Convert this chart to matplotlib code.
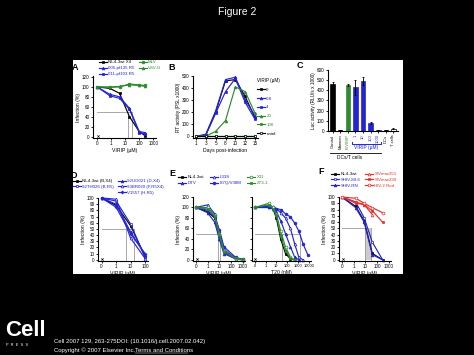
import numpy as np
import matplotlib
matplotlib.use('Agg')
import matplotlib.pyplot as plt
from matplotlib.lines import Line2D
from matplotlib.patches import Rectangle

plt.rcParams['font.family'] = ['Liberation Sans', 'DejaVu Sans']
plt.rcParams['font.size'] = 4

# ---- data ----
log_ticks = ['0', '1', '10', '100', '1000', '10000']

A_conc = [0, 0.8, 4, 20, 100, 250]
A_nl43 = [100, 97, 87, 40, 10, 2]
A_005 = [100, 85, 80, 57, 10, 8]
A_011 = [100, 82, 77, 55, 8, 5]
A_mlv = [100, 99, 100, 106, 104, 103]
A_vsv = [100, 100, 101, 104, 103, 101]

B_days = ['1', '3', '5', '8', '10', '12', '15']
B_0 = [0, 10, 200, 460, 470, 330, 150]
B_08 = [0, 15, 210, 470, 490, 300, 170]
B_4 = [0, 10, 190, 370, 480, 280, 140]
B_20 = [0, 0, 40, 130, 410, 370, 190]
B_100 = [0, 0, 0, 0, 0, 0, 0]
B_uninf = [0, 0, 0, 0, 0, 0, 0]

C_labels = ['Control', 'Mannan', 'B-VIRIP', '1', '10', '100', '1000', 'DCs', 'T cells']
C_vals = [460, 10, 450, 430, 490, 80, 10, 5, 20]
C_err = [25, 0, 10, 75, 40, 8, 0, 0, 5]

D_conc = [0, 1, 10, 100]
D_nl43 = [100, 88, 55, 5]
D_92ug = [100, 90, 45, 8]
D_92th = [100, 95, 58, 3]
D_93br = [100, 98, 35, 2]
D_v1557 = [100, 85, 42, 10]

E_conc = [0, 1, 4, 10, 25, 250, 1000]
E_nl43 = [100, 92, 80, 45, 15, 2, 1]
E_l33s = [100, 105, 88, 55, 20, 3, 1]
E_x11 = [100, 100, 85, 50, 18, 2, 0]
E_dtv = [100, 90, 72, 40, 12, 2, 0]
E_i37q = [100, 95, 82, 58, 25, 5, 1]
E_zt3 = [100, 97, 84, 48, 16, 3, 1]

nan = np.nan
T_conc = [0, 2, 5, 10, 25, 70, 200, 500, 1200, 3000, 8000]
T_nl43 = [100, 103, 97, 80, 40, 12, 2, 0, nan, nan, nan]
T_x11 = [100, 108, 100, 88, 55, 25, 5, 0, nan, nan, nan]
T_zt3 = [100, 105, 98, 85, 45, 18, 3, 0, nan, nan, nan]
T_dtv = [100, 100, 97, 92, 75, 50, 25, 5, 0, nan, nan]
T_l33s = [100, 102, 100, 98, 90, 80, 60, 30, 5, 0, nan]
T_i37q = [100, 100, 100, 98, 96, 88, 82, 70, 55, 30, 10]

F_conc = [0, 1.5, 8, 40, 300]
F_nl43 = [100, 85, 62, 10, 0]
F_shiv896 = [100, 92, 67, 28, 0]
F_shivrn = [100, 83, 60, 8, 0]
F_siv251 = [100, 92, 88, 72, nan]
F_siv239 = [100, 90, 88, 78, 60]
F_hiv2 = [100, 98, 90, 83, 75]

K = 'black'
BL = '#2424d6'
GR = '#2e8b2e'
RD = '#e3312a'
GY = '#9a9a9a'

W, H = 474, 355
fig = plt.figure(figsize=(4.74, 3.55), dpi=100, facecolor='black')
fig.patches.append(Rectangle((73 / W, 1 - 274 / H), 330 / W, 214 / H,
                             transform=fig.transFigure, facecolor='white', zorder=-10))


def box(l, t, r, b):
    return fig.add_axes([l / W, 1 - b / H, (r - l) / W, (b - t) / H])


def ftext(x, y, s, **kw):
    return fig.text(x / W, 1 - y / H, s, **kw)


def pos(c):
    c = np.asarray(c, float)
    return np.where(c > 0, 1 + np.log10(np.where(c > 0, c, 1)), 0)


def style(ax):
    ax.set_facecolor('none')
    for s in ['top', 'right']:
        ax.spines[s].set_visible(False)
    for s in ['left', 'bottom']:
        ax.spines[s].set_linewidth(0.8)
    ax.tick_params(length=1.6, width=0.6, labelsize=3.3, pad=0.8)


def line(ax, x, y, c, m, lab, filled=True, **kw):
    ax.plot(x, y, color=c, marker=m, ms=2.0, lw=0.85, mew=0.5,
            mfc=c if filled else 'white', label=lab, clip_on=False, **kw)


def leg(ax, x, y, ncol, handles=None, **kw):
    args = dict(loc='upper left', bbox_to_anchor=(x / W, 1 - y / H),
                bbox_transform=fig.transFigure, ncol=ncol, fontsize=3.2,
                frameon=False, handlelength=1.8, handletextpad=0.3,
                columnspacing=0.9, labelspacing=0.45, borderaxespad=0,
                borderpad=0, labelcolor='linecolor')
    args.update(kw)
    if handles is not None:
        return ax.legend(handles=handles, **args)
    return ax.legend(**args)


def gray(ax, x1, x2, band=False):
    ax.plot([0, x2], [50, 50], color=GY, lw=0.6, zorder=1)
    if band:
        ax.fill_between([x1, x2], 0, 50, color='#cccccc', lw=0, zorder=1)
    ax.plot([x1, x1], [0, 50], color=GY, lw=0.6, zorder=1)
    ax.plot([x2, x2], [0, 50], color=GY, lw=0.6, zorder=1)


def origin(ax):
    ax.plot([0.05], [1], marker='x', color=K, ms=1.6, mew=0.5, clip_on=False)


LBL = 3.7

# ---- panel A ----
axA = box(93, 76, 156, 138)
style(axA)
gray(axA, pos(15), pos(30))
line(axA, pos(A_conc), A_nl43, K, 's', 'NL4-3wt X4')
line(axA, pos(A_conc), A_005, BL, '^', '005-pf135 R5')
line(axA, pos(A_conc), A_011, BL, 's', '011-pf103 R5')
line(axA, pos(A_conc), A_mlv, GR, 'o', 'MLV')
line(axA, pos(A_conc), A_vsv, GR, '^', 'VSV-G')
origin(axA)
axA.set_xlim(-0.3, 4.2)
axA.set_ylim(-3, 122)
axA.set_xticks(range(5))
axA.set_xticklabels(log_ticks[:5])
axA.set_yticks(range(0, 121, 20))
axA.set_xlabel('VIRIP (µM)', fontsize=LBL, labelpad=1)
axA.set_ylabel('Infection (%)', fontsize=LBL, labelpad=1)
leg(axA, 99, 60, 2)

# ---- panel B ----
axB = box(193, 76, 258, 138)
style(axB)
xb = np.arange(len(B_days))
line(axB, xb, B_0, K, 's', '0')
line(axB, xb, B_08, BL, '^', '0.8')
line(axB, xb, B_4, BL, 's', '4')
line(axB, xb, B_20, GR, '^', '20')
line(axB, xb, B_100, GR, 's', '100')
line(axB, xb, B_uninf, K, 's', 'uninf.', filled=False)
axB.set_xlim(-0.3, 6.3)
axB.set_ylim(-15, 500)
axB.set_xticks(xb)
axB.set_xticklabels(B_days)
axB.set_yticks(range(0, 501, 100))
axB.set_xlabel('Days post-infection', fontsize=LBL, labelpad=1)
axB.set_ylabel('RT activity (PSL x1000)', fontsize=3.4, labelpad=1)
lb = leg(axB, 257, 78, 1, labelspacing=1.05, title='VIRIP (µM)', title_fontsize=3.3)
lb._legend_box.align = 'left'

# ---- panel C ----
axC = box(328, 70, 398, 131)
style(axC)
xc = np.arange(len(C_labels))
c_cols = [K, K, GR, BL, BL, BL, BL, K, 'white']
axC.bar(xc, C_vals, width=0.6, color=c_cols, edgecolor=K, lw=0.5,
        yerr=C_err, error_kw=dict(ecolor=K, elinewidth=0.6, capsize=1.0, capthick=0.6))
for i in range(3, 7):
    axC.patches[i].set_edgecolor(BL)
axC.patches[2].set_edgecolor(GR)
axC.set_xlim(-0.6, 8.6)
axC.set_ylim(0, 600)
axC.set_yticks(range(0, 601, 100))
axC.set_xticks(xc)
axC.set_xticklabels(C_labels, rotation=90)
axC.tick_params(axis='x', labelsize=3.0)
for t, c in zip(axC.get_xticklabels(), [K, K, GR, BL, BL, BL, BL, K, K]):
    t.set_color(c)
axC.set_ylabel('Luc activity (RLU/s x 1000)', fontsize=3.4, labelpad=1)
fig.add_artist(Line2D([352 / W, 352 / W, 381 / W, 381 / W],
                      [1 - 142 / H, 1 - 144 / H, 1 - 144 / H, 1 - 142 / H],
                      color=BL, lw=0.7))
ftext(366, 148, 'VIRIP (µM)', color=BL, fontsize=3.5, ha='center', va='center')
fig.add_artist(Line2D([330 / W, 381 / W], [1 - 152.5 / H, 1 - 152.5 / H], color=K, lw=0.6))
ftext(350, 157, 'DCs/T cells', color=K, fontsize=3.5, ha='center', va='center')

# ---- panel D ----
axD = box(98, 198, 148, 261)
style(axD)
gray(axD, pos(5), pos(16))
line(axD, pos(D_conc), D_nl43, K, 's', 'NL4-3wt (B,X4)')
line(axD, pos(D_conc), D_92ug, BL, '^', '92UG021 (D,X4)')
line(axD, pos(D_conc), D_92th, BL, 's', '92TH026 (B,R5)', filled=False)
line(axD, pos(D_conc), D_93br, BL, '^', '93BR020 (F,R5X4)', filled=False)
line(axD, pos(D_conc), D_v1557, BL, 'P', 'V1557 (H,R5)')
origin(axD)
axD.set_xlim(-0.25, 3.2)
axD.set_ylim(-2, 100)
axD.set_xticks(range(4))
axD.set_xticklabels(log_ticks[:4])
axD.set_yticks(range(0, 101, 10))
axD.set_xlabel('VIRIP (µM)', fontsize=LBL, labelpad=1)
axD.set_ylabel('Infection (%)', fontsize=LBL, labelpad=1)
hD, lD = axD.get_legend_handles_labels()
blank = Line2D([], [], linestyle='none')
leg(axD, 73, 179, 2, handles=[hD[0], hD[2], blank, hD[1], hD[3], hD[4]],
    labels=[lD[0], lD[2], '', lD[1], lD[3], lD[4]], labelspacing=0.4)

# ---- panel E ----
axE = box(193, 197, 245, 261)
style(axE)
gray(axE, pos(8), pos(11))
line(axE, pos(E_conc), E_nl43, K, 's', 'NL4-3wt')
line(axE, pos(E_conc), E_dtv, BL, '^', 'DTV')
line(axE, pos(E_conc), E_l33s, BL, '^', 'L33S', filled=False)
line(axE, pos(E_conc), E_i37q, BL, 'o', 'I37Q/V38M')
line(axE, pos(E_conc), E_x11, GR, 'o', 'X11', filled=False)
line(axE, pos(E_conc), E_zt3, GR, 's', 'ZT3-1')
origin(axE)
axE.set_xlim(-0.25, 4.2)
axE.set_ylim(-2, 120)
axE.set_xticks(range(5))
axE.set_xticklabels(log_ticks[:5])
axE.set_yticks(range(0, 121, 20))
axE.set_xlabel('VIRIP (µM)', fontsize=LBL, labelpad=1)
axE.set_ylabel('Infection (%)', fontsize=LBL, labelpad=1)
leg(axE, 178, 175, 3, columnspacing=1.4)

axT = box(252, 197, 311, 261)
style(axT)
gray(axT, pos(30), pos(1500))
line(axT, pos(T_conc), T_nl43, K, 's', 'NL4-3wt')
line(axT, pos(T_conc), T_dtv, BL, '^', 'DTV')
line(axT, pos(T_conc), T_l33s, BL, '^', 'L33S', filled=False)
line(axT, pos(T_conc), T_i37q, BL, 'o', 'I37Q/V38M')
line(axT, pos(T_conc), T_x11, GR, 'o', 'X11', filled=False)
line(axT, pos(T_conc), T_zt3, GR, 's', 'ZT3-1')
origin(axT)
axT.set_xlim(-0.25, 5.2)
axT.set_ylim(-2, 120)
axT.set_xticks(range(6))
axT.set_xticklabels(log_ticks)
axT.tick_params(axis='x', labelsize=2.9)
axT.set_yticks(range(0, 121, 20))
axT.set_yticklabels([])
axT.set_xlabel('T20 (nM)', fontsize=LBL, labelpad=1)

# ---- panel F ----
axF = box(339, 197, 391, 261)
style(axF)
gray(axF, pos(10), pos(28), band=True)
line(axF, pos(F_conc), F_nl43, K, 's', 'NL4-3wt')
line(axF, pos(F_conc), F_shiv896, BL, 's', 'SHIV-89.6', filled=False)
line(axF, pos(F_conc), F_shivrn, BL, '^', 'SHIV-RN')
line(axF, pos(F_conc), F_siv251, RD, '^', 'SIVmac251', filled=False)
line(axF, pos(F_conc), F_siv239, RD, 's', 'SIVmac239')
line(axF, pos(F_conc), F_hiv2, RD, 'o', 'HIV-2 Rod', filled=False)
origin(axF)
axF.set_xlim(-0.25, 4.2)
axF.set_ylim(-2, 100)
axF.set_xticks(range(5))
axF.set_xticklabels(log_ticks[:5])
axF.set_yticks(range(0, 101, 10))
axF.set_xlabel('VIRIP (µM)', fontsize=LBL, labelpad=1)
axF.set_ylabel('Infection (%)', fontsize=LBL, labelpad=1)
leg(axF, 331, 172, 2, columnspacing=1.1, labelspacing=0.4)

# ---- panel letters ----
for lab, x, y in [('A', 75, 68), ('B', 172, 68), ('C', 300, 66),
                  ('D', 74, 175), ('E', 172, 174), ('F', 321, 172)]:
    ftext(x, y, lab, fontsize=6.5, fontweight='bold', ha='center', va='center')

# ---- page text ----
ftext(237, 12, 'Figure 2', color='white', fontsize=7.5, ha='center', va='center')
ftext(5, 331, 'Cell', color='white', fontsize=16, fontweight='bold', ha='left', va='center')
ftext(6, 345, 'P  R  E  S  S', color='white', fontsize=2.8, ha='left', va='center')
ftext(54, 342, 'Cell 2007 129, 263-275DOI: (10.1016/j.cell.2007.02.042)',
      color='white', fontsize=4.3, ha='left', va='center')
ftext(54, 350, 'Copyright © 2007 Elsevier Inc.', color='white', fontsize=4.3,
      ha='left', va='center')
ftext(135, 350, 'Terms and Conditions', color='white', fontsize=4.3,
      ha='left', va='center')
fig.add_artist(Line2D([135 / W, 188 / W], [1 - 352.5 / H, 1 - 352.5 / H], color='white', lw=0.3))

fig.savefig('out.png', dpi=100, facecolor='black')
